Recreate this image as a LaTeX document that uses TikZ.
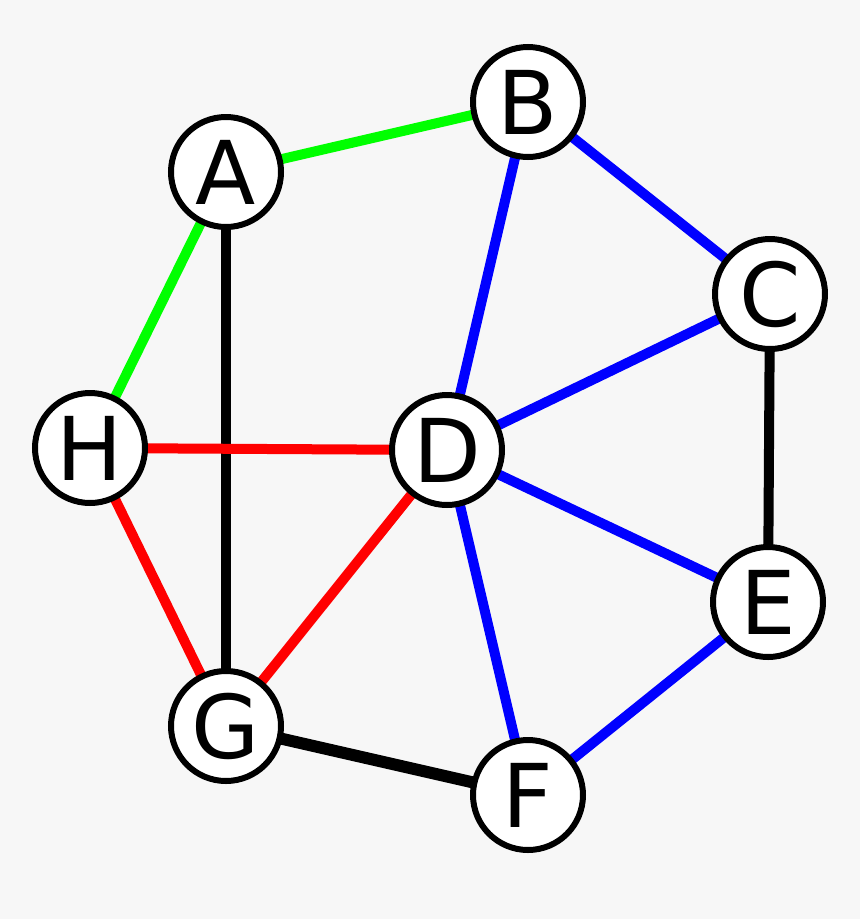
\documentclass[tikz,border=0pt]{standalone}
\usepackage{fontspec}
\setmainfont{DejaVu Sans}
\pgfdeclarelayer{bg}
\pgfdeclarelayer{edges}
\pgfsetlayers{bg,edges,main}
\begin{document}
\begin{tikzpicture}[x=1pt,y=-1pt,
  vert/.style={circle,draw=black,line width=6pt,fill=white,minimum size=110pt,inner sep=0pt,font=\fontsize{88}{88}\selectfont},
  edge/.style={line width=10pt}]
\begin{pgfonlayer}{bg}
\fill[gray!6] (0,0) rectangle (860,919);
\end{pgfonlayer}
\useasboundingbox (0,0) rectangle (860,919);
\node[vert] (A) at (226,172) {A};
\node[vert] (B) at (528,102) {B};
\node[vert] (C) at (770,294) {C};
\node[vert] (D) at (447,450) {D};
\node[vert] (E) at (768,602) {E};
\node[vert] (F) at (528,795) {F};
\node[vert] (G) at (226,726) {G};
\node[vert] (H) at (90,448) {H};
\begin{pgfonlayer}{edges}
\draw[edge,green] (A.center) -- (B.center);
\draw[edge,green] (A.center) -- (H.center);
\draw[edge,black] (A.center) -- (G.center);
\draw[edge,blue] (B.center) -- (C.center);
\draw[edge,blue] (B.center) -- (D.center);
\draw[edge,blue] (C.center) -- (D.center);
\draw[edge,black] (C.center) -- (E.center);
\draw[edge,blue] (D.center) -- (E.center);
\draw[edge,blue] (D.center) -- (F.center);
\draw[edge,blue] (E.center) -- (F.center);
\draw[edge,red] (H.center) -- (D.center);
\draw[edge,red] (H.center) -- (G.center);
\draw[edge,red] (D.center) -- (G.center);
\draw[edge,black,line width=12pt] (G.center) -- (F.center);
\end{pgfonlayer}
\end{tikzpicture}
\end{document}
